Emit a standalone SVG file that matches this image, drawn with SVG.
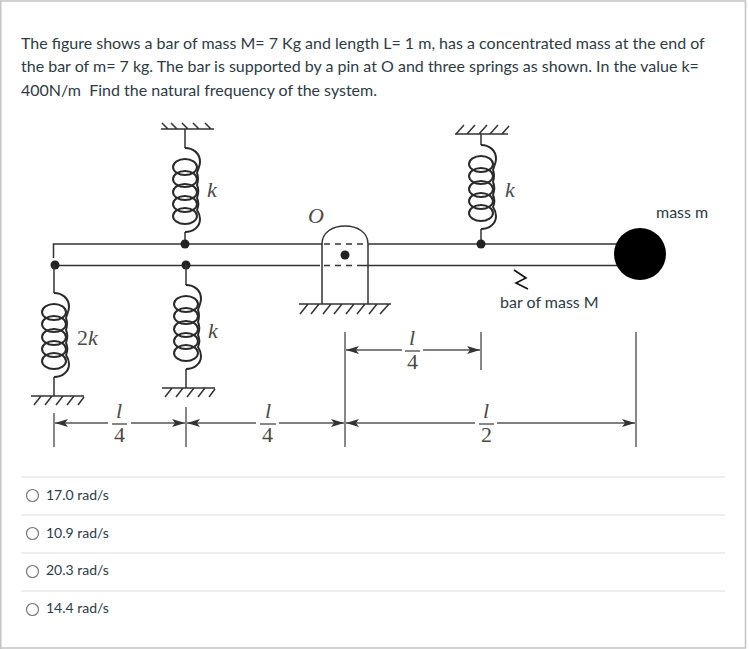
<svg xmlns="http://www.w3.org/2000/svg" width="749" height="649" viewBox="0 0 749 649">
<defs>
<marker id="ar" viewBox="0 0 13 8" refX="13" refY="4" markerWidth="13" markerHeight="8" markerUnits="userSpaceOnUse" orient="auto-start-reverse"><path d="M0 0L13 4L0 8L3 4Z" fill="#333"/></marker>
<g id="coil" fill="none" stroke="#2a2a2a" stroke-width="2">
<path d="M0 0C8 0 15 5 15 14C15 18 13 21 12 25C13 28 14 30 12 37C14 41 14 44 12 50C14 54 14 57 12 62C14 65 15 68 15 71C15 79 8 84 0 84"/>
<ellipse cx="0" cy="19" rx="12" ry="8"/><ellipse cx="0" cy="31" rx="12" ry="8"/><ellipse cx="0" cy="44" rx="12" ry="8"/><ellipse cx="0" cy="56" rx="12" ry="8"/><ellipse cx="0" cy="68" rx="12" ry="8"/>
</g>
<path id="ground" class="g" d="M-26 0H27M-23 9L-16 0M-12 9L-5 0M-1 9L6 0M10 9L17 0M21 9L27 1"/>
</defs>
<style>
.t{font-family:"Lato","Liberation Sans",sans-serif;font-size:16px;fill:#2d3b45}
.s{font-family:"Lato","Liberation Sans",sans-serif;font-size:14px;fill:#2d3b45}
.b{font-family:"Lato","Liberation Sans",sans-serif;font-size:16px;fill:#2d3b45}
.m{font-family:"Liberation Serif",serif;font-size:22px;fill:#4a4a4a}
.i{font-style:italic}
.l{stroke:#333;stroke-width:1.500;fill:none}
.d{stroke:#555;stroke-width:1.400;fill:none}
.g{stroke:#333;stroke-width:1.500;fill:none}
.r{fill:#fff;stroke:#777;stroke-width:1.200}
.h{stroke:#eee;stroke-width:2}
</style>
<rect width="749" height="649" fill="#fff"/>
<path d="M0.700 649V1H745.500V648H0" fill="none" stroke="#c4c4c4" stroke-width="1.600"/>
<text class="t" x="21" y="49">The figure shows a bar of mass M= 7 Kg and length L= 1 m, has a concentrated mass at the end of</text>
<text class="t" x="21" y="72">the bar of m= 7 kg. The bar is supported by a pin at O and three springs as shown. In the value k=</text>
<text class="t" x="21" y="96">400N/m &#160;Find the natural frequency of the system.</text>
<g id="connectors">
<path class="l" d="M53.500 258V244H322M368 244H620M55 265.500H320M362 265.500H620"/>
<path class="l" stroke-dasharray="6 5" d="M324 244H368M324 265.500H362"/>
<path class="d" d="M54 413V447M186 407V447M345 332V447M481 332V370M636 332V447"/>
<path class="d" marker-start="url(#ar)" d="M55 423H108"/>
<path class="d" marker-end="url(#ar)" d="M131 423H185"/>
<path class="d" marker-start="url(#ar)" d="M187 423H256"/>
<path class="d" marker-end="url(#ar)" d="M279 423H344"/>
<path class="d" marker-start="url(#ar)" d="M346 350H402"/>
<path class="d" marker-end="url(#ar)" d="M423 350H480"/>
<path class="d" marker-start="url(#ar)" d="M346 423H475"/>
<path class="d" marker-end="url(#ar)" d="M497 423H635"/>
</g>
<g id="spring-top-left"><path class="g" d="M161 129H214M162 123L168 129M171 123L177 129M182 123L188 129M193 123L199 129M205 123L211 129"/><path class="l" d="M185 129V148M185 232V244"/><use href="#coil" x="185" y="148"/><circle cx="185" cy="244" r="4.500" fill="#222"/><text class="m i" x="207" y="197">k</text></g>
<g id="spring-top-right"><path class="g" d="M455 134H508M456 134L464 125M467 134L475 125M479 134L487 125M490 134L498 125M502 134L509 126"/><path class="l" d="M481 134V145M481 229V244"/><use href="#coil" x="481" y="145"/><circle cx="481" cy="244" r="4.500" fill="#222"/><text class="m i" x="505" y="197">k</text></g>
<g id="spring-lower-left"><circle cx="55" cy="265" r="4.500" fill="#222"/><path class="l" d="M54 265V293M54 377V396"/><use href="#coil" x="54" y="293"/><use href="#ground" x="57" y="396"/><text class="m" x="77" y="345">2<tspan class="i">k</tspan></text></g>
<g id="spring-lower-mid"><circle cx="186" cy="265" r="4.500" fill="#222"/><path class="l" d="M186 265V285M186 369V388"/><use href="#coil" x="186" y="285"/><use href="#ground" x="188" y="388"/><text class="m i" x="208" y="338">k</text></g>
<g id="pin"><path class="l" d="M322 304V244C322 232 333 226 345 226C357 226 368 232 368 244V304"/><path class="g" d="M299 304H391M300 314L308 304M311 314L319 304M323 314L331 304M334 314L342 304M346 314L354 304M357 314L365 304M369 314L377 304M380 314L389 304"/><circle cx="345" cy="255" r="4.500" fill="#222"/><text class="m i" x="308" y="223">O</text></g>
<g id="mass"><circle cx="640" cy="254" r="26" fill="#000"/><text class="b" x="656" y="218">mass m</text></g>
<g id="bar-label"><path d="M514 270L526 278L516 283L528 289" fill="none" stroke="#111" stroke-width="1.600"/><text class="b" x="500" y="308">bar of mass M</text></g>
<g id="dimensions">
<text class="m i" x="116" y="418">l</text><path class="d" d="M112 424H127"/><text class="m" x="114" y="442">4</text>
<text class="m i" x="265" y="418">l</text><path class="d" d="M260 424H276"/><text class="m" x="262" y="442">4</text>
<text class="m i" x="409" y="345">l</text><path class="d" d="M405 351H420"/><text class="m" x="407" y="369">4</text>
<text class="m i" x="483" y="418">l</text><path class="d" d="M479 424H494"/><text class="m" x="481" y="442">2</text>
</g>
<g id="options">
<path class="h" d="M21 477H725M21 515H725M21 553H725M21 591H725"/>
<circle class="r" cx="32.500" cy="495.500" r="6"/><text class="s" x="46" y="499.500">17.0 rad/s</text>
<circle class="r" cx="32.500" cy="533.500" r="6"/><text class="s" x="46" y="537.500">10.9 rad/s</text>
<circle class="r" cx="32.500" cy="571.500" r="6"/><text class="s" x="46" y="575">20.3 rad/s</text>
<circle class="r" cx="32.500" cy="609.500" r="6"/><text class="s" x="46" y="613">14.4 rad/s</text>
</g>
</svg>
